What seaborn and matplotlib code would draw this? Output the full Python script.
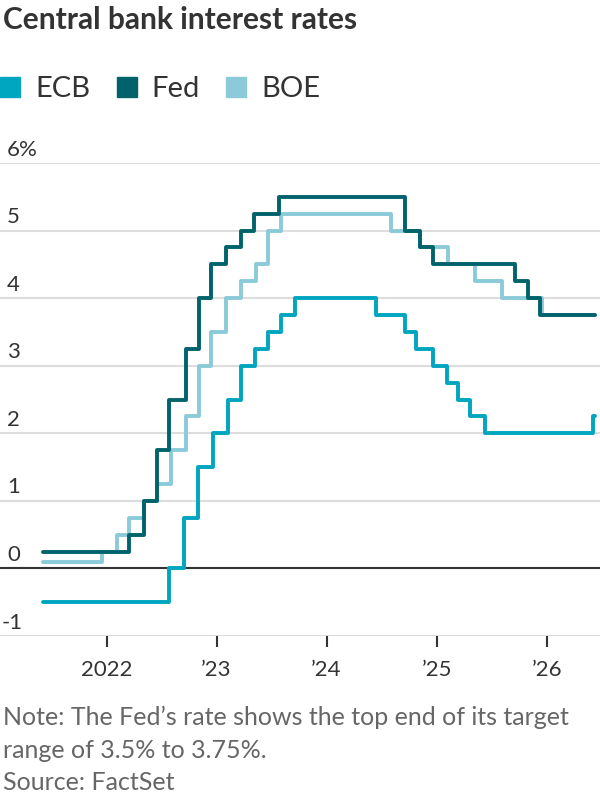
import pandas as pd
import matplotlib.pyplot as plt
import matplotlib.transforms as mtransforms
from matplotlib.lines import Line2D
import seaborn as sns

# policy rates, step changes (date the new rate takes effect)
ecb_dates = ['2021-06-04', '2022-07-27', '2022-09-14', '2022-11-02', '2022-12-21', '2023-02-08',
             '2023-03-22', '2023-05-10', '2023-06-21', '2023-08-02', '2023-09-20', '2024-06-12',
             '2024-09-18', '2024-10-23', '2024-12-18', '2025-02-05', '2025-03-12', '2025-04-23',
             '2025-06-11', '2026-06-03', '2026-06-10']
ecb_rates = [-0.5, 0.0, 0.75, 1.5, 2.0, 2.5, 3.0, 3.25, 3.5, 3.75, 4.0, 3.75,
             3.5, 3.25, 3.0, 2.75, 2.5, 2.25, 2.0, 2.25, 2.25]

fed_dates = ['2021-06-04', '2022-03-17', '2022-05-05', '2022-06-16', '2022-07-28', '2022-09-22',
             '2022-11-03', '2022-12-15', '2023-02-02', '2023-03-23', '2023-05-04', '2023-07-27',
             '2024-09-19', '2024-11-08', '2024-12-19', '2025-09-18', '2025-10-30', '2025-12-11',
             '2026-06-10']
fed_rates = [0.25, 0.5, 1.0, 1.75, 2.5, 3.25, 4.0, 4.5, 4.75, 5.0, 5.25, 5.5,
             5.0, 4.75, 4.5, 4.25, 4.0, 3.75, 3.75]

boe_dates = ['2021-06-04', '2021-12-16', '2022-02-03', '2022-03-17', '2022-05-05', '2022-06-16',
             '2022-08-04', '2022-09-22', '2022-11-03', '2022-12-15', '2023-02-02', '2023-03-23',
             '2023-05-11', '2023-06-22', '2023-08-03', '2024-08-01', '2024-11-07', '2025-02-06',
             '2025-05-08', '2025-08-07', '2025-12-18', '2026-06-10']
boe_rates = [0.1, 0.25, 0.5, 0.75, 1.0, 1.25, 1.75, 2.25, 3.0, 3.5, 4.0, 4.25,
             4.5, 5.0, 5.25, 5.0, 4.75, 4.5, 4.25, 4.0, 3.75, 3.75]

banks = ['ECB', 'Fed', 'BOE']
colors = {'ECB': '#00a5c0', 'Fed': '#00636b', 'BOE': '#8bcad9'}

y_ticks = [-1, 0, 1, 2, 3, 4, 5, 6]
y_labels = ['-1', '0', '1', '2', '3', '4', '5', '6%']
x_ticks = ['2022-01-01', '2023-01-01', '2024-01-01', '2025-01-01', '2026-01-01']
x_labels = ['2022', '\u201923', '\u201924', '\u201925', '\u201926']

frames = []
for name, d, r in [('ECB', ecb_dates, ecb_rates), ('Fed', fed_dates, fed_rates), ('BOE', boe_dates, boe_rates)]:
    frames.append(pd.DataFrame({'date': pd.to_datetime(d), 'rate': r, 'bank': name}))
df = pd.concat(frames, ignore_index=True)

sns.set_theme(style='white')
plt.rcParams['font.family'] = ['Lato', 'DejaVu Sans']
dark = '#333333'

fig = plt.figure(figsize=(6, 8), dpi=100)
ax = fig.add_axes([0, 1 - 636 / 800, 1, 473 / 800])

ax.set_ylim(-1, 6)
ax.set_xlim(pd.Timestamp('2021-01-12'), pd.Timestamp('2026-06-27'))
ax.set_yticks(y_ticks)
ax.tick_params(axis='y', length=0, labelleft=False)
ax.grid(axis='y', color='#dddddd', linewidth=1.5)
ax.grid(axis='x', visible=False)
for s in ax.spines.values():
    s.set_visible(False)
ax.axhline(0, color=dark, linewidth=1.5, zorder=1.5)

sns.lineplot(data=df, x='date', y='rate', hue='bank', hue_order=['BOE', 'ECB', 'Fed'],
             palette=colors, drawstyle='steps-post', linewidth=2.8, legend=False,
             estimator=None, sort=False, ax=ax, zorder=3)
ax.set_xlabel('')
ax.set_ylabel('')

ax.set_xticks(pd.to_datetime(x_ticks))
ax.set_xticklabels(x_labels)
ax.tick_params(axis='x', bottom=True, length=8, width=1.5, color=dark, direction='out',
               labelsize=16, labelcolor=dark, pad=9)

trans = mtransforms.blended_transform_factory(ax.transAxes, ax.transData)
for v, lab in zip(y_ticks, y_labels):
    x0 = 1.5 / 600 if lab.startswith('-') else 7 / 600
    ax.text(x0, v + 0.05, lab, transform=trans, ha='left', va='bottom',
            fontsize=16, color=dark)

fig.text(3 / 600, 1 - 20 / 800, 'Central bank interest rates', ha='left', va='center',
         fontsize=21.5, fontweight='bold', color=dark)

handles = [Line2D([], [], marker='s', linestyle='', markersize=14.4, color=colors[b]) for b in banks]
fig.legend(handles, banks, loc='center left', bbox_to_anchor=(0, 1 - 89 / 800), ncol=3,
           frameon=False, handlelength=0.7, handletextpad=0.5, columnspacing=0.9,
           borderpad=0, borderaxespad=0, labelcolor=dark, prop={'size': 21})

note_color = '#666666'
note_lines = ['Note: The Fed\u2019s rate shows the top end of its target',
              'range of 3.5% to 3.75%.',
              'Source: FactSet']
for i, line in enumerate(note_lines):
    fig.text(3 / 600, 1 - (717 + 33 * i) / 800, line, ha='left', va='center',
             fontsize=18, color=note_color)

fig.savefig('out.png', dpi=100)
